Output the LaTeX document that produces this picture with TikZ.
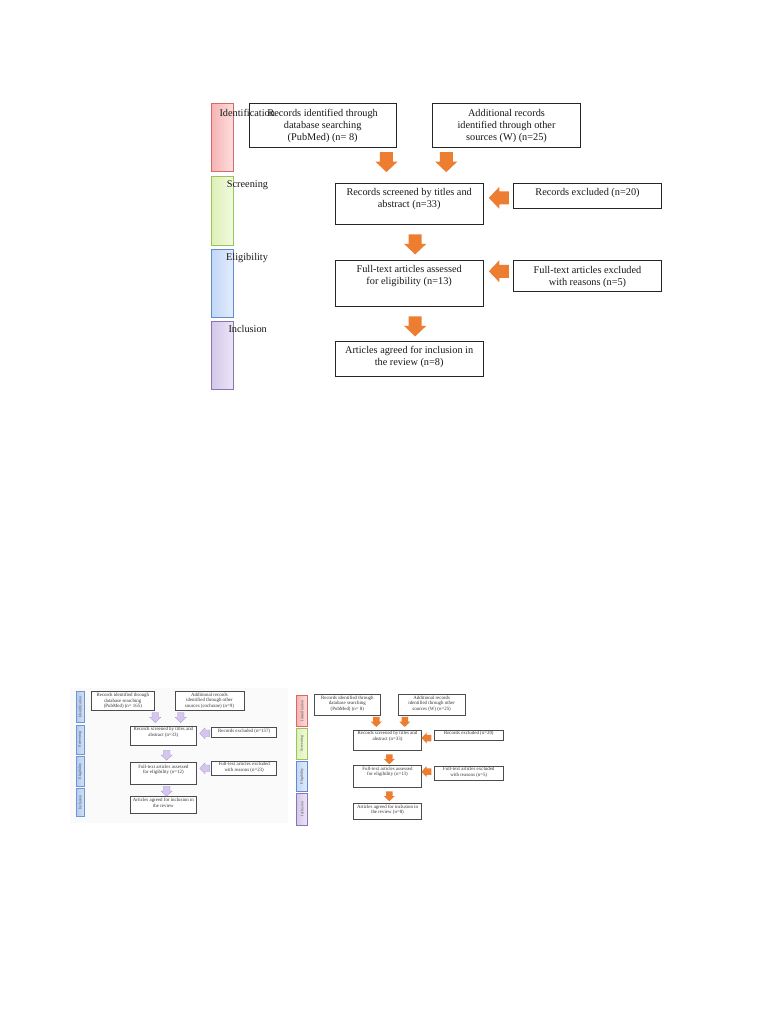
\documentclass[tikz,border=0pt]{standalone}
\usepackage{fontspec}
\setmainfont{Liberation Serif}
\usetikzlibrary{calc,fit}
\definecolor{orng}{RGB}{237,125,49}
\definecolor{lav}{RGB}{212,198,238}
\definecolor{lavd}{RGB}{170,150,210}
\begin{document}
\begin{tikzpicture}[x=1pt,y=-1pt,
  box/.style={draw=black!85, line width=0.9pt, inner sep=0pt, fill=white},
  tbox/.style={draw=black!70, line width=0.5pt, inner sep=0pt, fill=white},
  mtxt/.style={font=\fontsize{10.3}{12.2}\selectfont, align=center, inner sep=0pt, text=black!90},
  ttxt/.style={font=\fontsize{4.9}{5.6}\selectfont, align=center, inner sep=0pt, text=black!80},
  vtxt/.style={font=\fontsize{3.8}{4.5}\selectfont, rotate=90, inner sep=0pt, text=black!70},
  pinkbar/.style={inner sep=0pt, draw={rgb,255:red,215;green,105;blue,105}, line width=0.8pt, left color={rgb,255:red,246;green,180;blue,180}, right color={rgb,255:red,253;green,222;blue,222}},
  greenbar/.style={inner sep=0pt, draw={rgb,255:red,155;green,195;blue,90}, line width=0.8pt, left color={rgb,255:red,222;green,240;blue,185}, right color={rgb,255:red,242;green,250;blue,222}},
  bluebar/.style={inner sep=0pt, draw={rgb,255:red,95;green,140;blue,205}, line width=0.8pt, left color={rgb,255:red,196;green,215;blue,247}, right color={rgb,255:red,226;green,236;blue,252}},
  purplebar/.style={inner sep=0pt, draw={rgb,255:red,140;green,115;blue,180}, line width=0.8pt, left color={rgb,255:red,212;green,200;blue,235}, right color={rgb,255:red,236;green,229;blue,246}},
  tbluebar/.style={inner sep=0pt, draw={rgb,255:red,110;green,150;blue,210}, line width=0.5pt, left color={rgb,255:red,180;green,202;blue,238}, right color={rgb,255:red,210;green,225;blue,246}},
  darrow/.pic={\path[pic actions] (-6.5,0) -- (6.5,0) -- (6.5,9.5) -- (11,9.5) -- (0,20) -- (-11,9.5) -- (-6.5,9.5) -- cycle;},
  orangearrow/.style={fill=orng, draw=none},
  purplearrow/.style={fill=lav, draw=lavd, line width=0.3pt}
]
\useasboundingbox (0,0) rectangle (768,1024);
\fill[white] (0,0) rectangle (768,1024);

% ================= main diagram =================
\node[pinkbar, fit={(211.7,103.3) (233.3,171.7)}] (b1) {};
\node[greenbar, fit={(211.7,176.7) (233.3,245)}] (b2) {};
\node[bluebar, fit={(211.7,249.3) (233.3,317.7)}] (b3) {};
\node[purplebar, fit={(211.7,321.7) (233.3,389.3)}] (b4) {};

\node[box, fit={(249.3,103.3) (396,147.3)}] (A) {};
\node[box, fit={(432.3,103.3) (580.7,147.3)}] (B) {};
\node[box, fit={(335,183.3) (483.3,224)}] (C) {};
\node[box, fit={(513.3,183.3) (661.7,208.3)}] (D) {};
\node[box, fit={(335,260) (483.3,306)}] (E) {};
\node[box, fit={(513.3,260.7) (661.7,291.7)}] (F) {};
\node[box, fit={(335,341.7) (483.3,376)}] (G) {};

\node[mtxt, anchor=north] (At) at ($(A.north)+(0,6)$) {Records identified through\\database searching\\(PubMed) (n= 8)};
\node[mtxt, anchor=north] (Bt) at ($(B.north)+(0,6)$) {Additional records\\identified through other\\sources (W) (n=25)};
\node[mtxt, anchor=north] (Ct) at ($(C.north)+(0,5)$) {Records screened by titles and\\abstract (n=33)};
\node[mtxt, anchor=north] (Dt) at ($(D.north)+(0,5)$) {Records excluded (n=20)};
\node[mtxt, anchor=north] (Et) at ($(E.north)+(0,5.5)$) {Full-text articles assessed\\for eligibility (n=13)};
\node[mtxt, anchor=north] (Ft) at ($(F.north)+(0,5.5)$) {Full-text articles excluded\\with reasons (n=5)};
\node[mtxt, anchor=north] (Gt) at ($(G.north)+(0,4.5)$) {Articles agreed for inclusion in\\the review (n=8)};

\node[mtxt, anchor=west] (l1) at (219.3,113.3) {Identification};
\node[mtxt, anchor=west] (l2) at (226.7,185) {Screening};
\node[mtxt, anchor=west] (l3) at (226,258.3) {Eligibility};
\node[mtxt, anchor=west] (l4) at (228.3,329.3) {Inclusion};

\pic[orangearrow] at ($(A.south east)+(-10,4.4)$) {darrow};
\pic[orangearrow] at ($(B.south west)+(14.4,4.4)$) {darrow};
\pic[orangearrow, rotate=-90] at ($(D.north west)+(-4,15)$) {darrow};
\pic[orangearrow] at ($(C.south)+(6,10)$) {darrow};
\pic[orangearrow, rotate=-90] at ($(F.north west)+(-4,11)$) {darrow};
\pic[orangearrow] at ($(E.south)+(6,10)$) {darrow};

% ================= left thumbnail =================
\fill[black!2] (70,688) rectangle (288,823);
\node[tbluebar, fit={(76,691.7) (84.3,722.7)}] (Lb1) {};
\node[tbluebar, fit={(76,725) (84.3,754)}] (Lb2) {};
\node[tbluebar, fit={(76,756.7) (84.3,786)}] (Lb3) {};
\node[tbluebar, fit={(76,788.3) (84.3,816.7)}] (Lb4) {};
\node[vtxt] (Ll1) at (Lb1) {Identification};
\node[vtxt] (Ll2) at (Lb2) {Screening};
\node[vtxt] (Ll3) at (Lb3) {Eligibility};
\node[vtxt] (Ll4) at (Lb4) {Inclusion};

\node[tbox, fit={(91.5,691.7) (154.2,710.7)}] (LA) {};
\node[tbox, fit={(175,691.7) (244,710.7)}] (LB) {};
\node[tbox, fit={(130,726) (196.7,745)}] (LC) {};
\node[tbox, fit={(211.7,727.7) (276.7,737.7)}] (LD) {};
\node[tbox, fit={(130,762.7) (196.7,784)}] (LE) {};
\node[tbox, fit={(211.7,761) (276.7,775)}] (LF) {};
\node[tbox, fit={(130,796.7) (196.7,813.3)}] (LG) {};

\node[ttxt, anchor=north] (LAt) at ($(LA.north)+(0,1.3)$) {Records identified through\\database searching\\(PubMed) (n= 165)};
\node[ttxt, anchor=north] (LBt) at ($(LB.north)+(0,1.3)$) {Additional records\\identified through other\\sources (cochrane) (n=9)};
\node[ttxt, anchor=north] (LCt) at ($(LC.north)+(0,1.5)$) {Records screened by titles and\\abstract (n=33)};
\node[ttxt, anchor=north] (LDt) at ($(LD.north)+(0,1.5)$) {Records excluded (n=157)};
\node[ttxt, anchor=north] (LEt) at ($(LE.north)+(0,2)$) {Full-text articles assessed\\for eligibility (n=12)};
\node[ttxt, anchor=north] (LFt) at ($(LF.north)+(0,1.5)$) {Full-text articles excluded\\with reasons (n=23)};
\node[ttxt, anchor=north] (LGt) at ($(LG.north)+(0,1.5)$) {Articles agreed for inclusion in\\the review};

\pic[purplearrow, scale=0.5] at ($(LA.south east)+(0.8,1.6)$) {darrow};
\pic[purplearrow, scale=0.5] at ($(LB.south west)+(6,1.6)$) {darrow};
\pic[purplearrow, scale=0.5, rotate=-90] at ($(LD.west)+(-1.7,0.6)$) {darrow};
\pic[purplearrow, scale=0.5] at ($(LC.south)+(3.3,5)$) {darrow};
\pic[purplearrow, scale=0.5, rotate=-90] at ($(LF.west)+(-1.7,0.3)$) {darrow};
\pic[purplearrow, scale=0.5] at ($(LE.south)+(3.3,2)$) {darrow};

% ================= right thumbnail =================
\node[pinkbar, line width=0.5pt, fit={(296.7,695) (307.3,726.7)}] (Rb1) {};
\node[greenbar, line width=0.5pt, fit={(296.7,728.3) (307.3,759)}] (Rb2) {};
\node[bluebar, line width=0.5pt, fit={(296.7,761) (307.3,791.7)}] (Rb3) {};
\node[purplebar, line width=0.5pt, fit={(296.7,793.3) (307.3,825)}] (Rb4) {};
\node[vtxt] (Rl1) at (Rb1) {Identification};
\node[vtxt] (Rl2) at (Rb2) {Screening};
\node[vtxt] (Rl3) at (Rb3) {Eligibility};
\node[vtxt] (Rl4) at (Rb4) {Inclusion};

\node[tbox, fit={(314,694.3) (380.7,715)}] (RA) {};
\node[tbox, fit={(398.3,694.3) (465,715)}] (RB) {};
\node[tbox, fit={(353.3,730) (421.7,750)}] (RC) {};
\node[tbox, fit={(434.3,730) (503.3,740)}] (RD) {};
\node[tbox, fit={(353.3,765) (421.7,787.3)}] (RE) {};
\node[tbox, fit={(434.3,766) (503.3,780.7)}] (RF) {};
\node[tbox, fit={(353.3,803.3) (421.7,819.3)}] (RG) {};

\node[ttxt, anchor=north] (RAt) at ($(RA.north)+(0,1.5)$) {Records identified through\\database searching\\(PubMed) (n= 8)};
\node[ttxt, anchor=north] (RBt) at ($(RB.north)+(0,1.5)$) {Additional records\\identified through other\\sources (W) (n=25)};
\node[ttxt, anchor=north] (RCt) at ($(RC.north)+(0,1.5)$) {Records screened by titles and\\abstract (n=33)};
\node[ttxt, anchor=north] (RDt) at ($(RD.north)+(0,1.5)$) {Records excluded (n=20)};
\node[ttxt, anchor=north] (REt) at ($(RE.north)+(0,2)$) {Full-text articles assessed\\for eligibility (n=13)};
\node[ttxt, anchor=north] (RFt) at ($(RF.north)+(0,1.5)$) {Full-text articles excluded\\with reasons (n=5)};
\node[ttxt, anchor=north] (RGt) at ($(RG.north)+(0,1.5)$) {Articles agreed for inclusion in\\the review (n=8)};

\pic[orangearrow, scale=0.5] at ($(RA.south east)+(-4.7,1.7)$) {darrow};
\pic[orangearrow, scale=0.5] at ($(RB.south west)+(6.7,1.7)$) {darrow};
\pic[orangearrow, scale=0.5, rotate=-90] at ($(RD.west)+(-2.6,3)$) {darrow};
\pic[orangearrow, scale=0.5] at ($(RC.south)+(1.8,4)$) {darrow};
\pic[orangearrow, scale=0.5, rotate=-90] at ($(RF.west)+(-2.6,-1.7)$) {darrow};
\pic[orangearrow, scale=0.5] at ($(RE.south)+(1.8,3.7)$) {darrow};
\end{tikzpicture}
\end{document}
